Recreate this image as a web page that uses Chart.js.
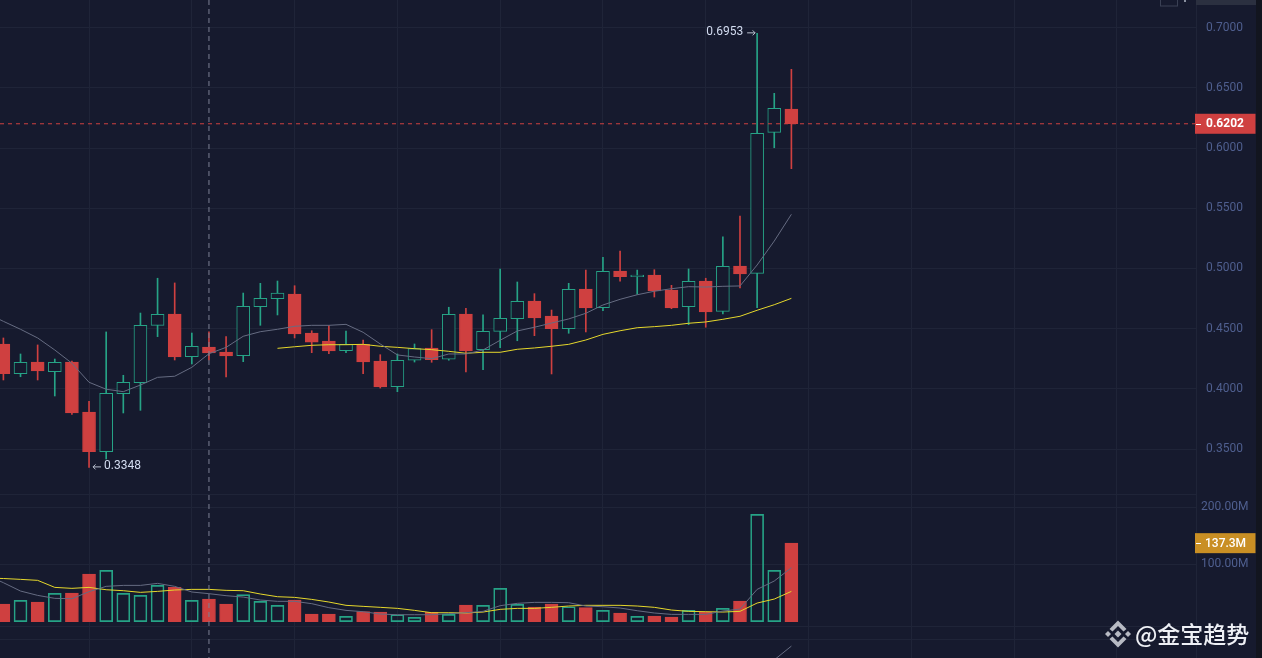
<!DOCTYPE html>
<html>
<head>
<meta charset="utf-8">
<title>K-line</title>
<script src="https://cdn.jsdelivr.net/npm/chart.js@4/dist/chart.umd.js"></script>
<style>
  html, body { margin: 0; padding: 0; background: #161a2e; overflow: hidden; }
  canvas { display: block; }
</style>
</head>
<body>
<canvas id="myChart" width="1262" height="658"></canvas>
<script>
// candles, left to right
const opens = [0.4373,0.4126,0.4223,0.4143,0.4223,0.3808,0.3478,0.3960,0.4051,0.4528,0.4622,0.4267,0.4348,0.4306,0.4276,0.4683,0.4749,0.4788,0.4464,0.4398,0.4317,0.4370,0.4232,0.4018,0.4238,0.4340,0.4246,0.4622,0.4326,0.4478,0.4583,0.4730,0.4605,0.4500,0.4830,0.4674,0.4979,0.4932,0.4946,0.4821,0.4683,0.4896,0.4644,0.5021,0.4960,0.6131,0.6325];
const closes = [0.4126,0.4221,0.4149,0.4221,0.3800,0.3478,0.3963,0.4055,0.4528,0.4620,0.4265,0.4354,0.4298,0.4273,0.4686,0.4752,0.4796,0.4456,0.4389,0.4315,0.4370,0.4223,0.4016,0.4238,0.4334,0.4242,0.4620,0.4315,0.4478,0.4586,0.4728,0.4589,0.4500,0.4827,0.4672,0.4977,0.4932,0.4946,0.4813,0.4672,0.4894,0.4639,0.5018,0.4954,0.6123,0.6330,0.6202];
const highs = [0.4423,0.4290,0.4365,0.4248,0.4232,0.3897,0.4473,0.4113,0.4630,0.4919,0.4880,0.4464,0.4473,0.4434,0.4796,0.4877,0.4896,0.4857,0.4483,0.4525,0.4481,0.4406,0.4284,0.4290,0.4373,0.4492,0.4678,0.4669,0.4616,0.4996,0.4888,0.4791,0.4655,0.4877,0.4987,0.5093,0.5145,0.4987,0.4990,0.4860,0.4996,0.4919,0.5262,0.5436,0.6953,0.6455,0.6654];
const lows = [0.4074,0.4101,0.4074,0.3941,0.3789,0.3348,0.3418,0.3800,0.3822,0.4434,0.4240,0.4207,0.4240,0.4099,0.4226,0.4528,0.4614,0.4423,0.4301,0.4292,0.4301,0.4126,0.4007,0.3977,0.4223,0.4221,0.4238,0.4140,0.4159,0.4342,0.4400,0.4442,0.4124,0.4462,0.4473,0.4649,0.4894,0.4786,0.4763,0.4666,0.4533,0.4512,0.4622,0.4838,0.4674,0.6003,0.5829];

// moving averages on price; the first one starts one candle left of the view
const priceMaShort = [0.4630,0.4561,0.4495,0.4423,0.4323,0.4213,0.4055,0.3997,0.3977,0.4032,0.4096,0.4105,0.4179,0.4292,0.4345,0.4437,0.4475,0.4495,0.4520,0.4528,0.4528,0.4536,0.4470,0.4373,0.4282,0.4265,0.4251,0.4290,0.4290,0.4323,0.4404,0.4481,0.4512,0.4547,0.4581,0.4628,0.4697,0.4744,0.4782,0.4811,0.4832,0.4849,0.4846,0.4852,0.4855,0.5029,0.5228,0.5450];
const priceMaLong = [0.4337,0.4350,0.4362,0.4367,0.4367,0.4370,0.4354,0.4345,0.4334,0.4326,0.4312,0.4296,0.4304,0.4304,0.4329,0.4340,0.4354,0.4370,0.4406,0.4453,0.4483,0.4508,0.4517,0.4528,0.4545,0.4556,0.4578,0.4603,0.4653,0.4699,0.4752];

// volume in millions
const volumes = [30.9,37.3,34.4,49.5,50.1,83.3,89.8,49.5,46,63.5,60,37.3,39.6,30.9,47.2,35.6,28.6,37.9,13.4,13.4,9.3,17.5,16.9,12.2,7.6,16.3,12.8,29.1,28.6,58.3,30.3,25.6,30.9,26.2,24.5,19.8,15.2,9.3,9.9,8.2,19.8,16.9,23.3,36.1,187.7,89.8,137.3];
const volMaShort = [81.6,68.2,53.6,46,40.8,40.2,52.5,61.8,63.5,63.5,67,61.8,51.9,49,45.5,43.1,37.9,35.6,35.6,31.5,24.5,19.8,17.5,13.4,12.2,12.2,12.2,14,15.7,18.1,28,32.1,33.8,33.8,33.2,27.4,26.2,23.9,19.2,15.2,12.8,12.8,12.8,18.6,22.1,56.5,71.1,94.4];
const volMaLong = [76.3,75.5,74,72.3,60,58.3,60,55.9,54.2,51.3,53,55.4,56.5,56.5,54.8,54.2,48.4,43.7,42.5,39,34.4,28.6,26.8,25.1,23.3,19.8,15.7,15.7,15.2,16.9,21.6,23.3,23.3,25.1,27.4,28.6,28.6,28.6,27.4,25.1,20.4,18.1,17.5,16.9,18.1,32.6,39.6,53];

// third pane, only the tail of its line is on screen
const oscValues = [-6, 38];

const priceTicks = [0.7, 0.65, 0.6, 0.55, 0.5, 0.45, 0.4, 0.35];
const volumeTicks = [200, 100];
const hoverIndex = 12;

const BG = '#161a2e';
const GRID = '#1f2438';
const GREEN = '#26a386';
const RED = '#cf4040';
const GOLD = '#c98f24';
const TICK = '#4f5f8f';
const LABEL = '#d3dcf0';
const GRAY_LINE = '#666c82';
const YELLOW = '#e6d82c';

const isUp = (i) => closes[i] >= opens[i];
const candleColor = (c) => isUp(c.dataIndex) ? GREEN : RED;
const points = (arr, start) => arr.map((v, k) => ({x: start + k, y: v}));

const xMin = -0.198, xMax = 69.62;
const priceMax = 0.723, priceMin = 0.3127, priceFloor = 0.1765;
const lastPrice = closes[closes.length - 1];
const lastVolume = volumes[volumes.length - 1];

function fixedTicks(values) {
  return (scale) => { scale.ticks = values.map((v) => ({value: v})); };
}

// keep the panes flush, tick labels must not push the chart area in
function paneFit(s) {
  s.width = 60;
  s.paddingTop = 0;
  s.paddingBottom = 0;
}

// labels, tags, watermark
const overlay = {
  id: 'overlay',
  afterDraw(chart) {
    const c = chart.ctx;
    const xs = chart.scales.x, ys = chart.scales.y, yv = chart.scales.yVol;
    c.save();

    // high / low markers
    const hi = Math.max(...highs), lo = Math.min(...lows);
    const hiX = xs.getPixelForValue(highs.indexOf(hi)), loX = xs.getPixelForValue(lows.indexOf(lo));
    c.font = '12px Roboto';
    c.fillStyle = LABEL;
    c.textBaseline = 'middle';
    c.textAlign = 'right';
    c.fillText(hi.toFixed(4), hiX - 14, ys.getPixelForValue(hi) - 1);
    c.textAlign = 'left';
    c.fillText(lo.toFixed(4), loX + 15, ys.getPixelForValue(lo) - 1);
    arrow(c, hiX - 6, ys.getPixelForValue(hi) - 1, 1);
    arrow(c, loX + 8, ys.getPixelForValue(lo) - 1, -1);

    tag(c, ys.getPixelForValue(lastPrice), RED, lastPrice.toFixed(4), 'bold 12px Roboto', 1206);
    tag(c, yv.getPixelForValue(lastVolume), GOLD, lastVolume.toFixed(1) + 'M', '500 12px Roboto', 1205);

    // toolbar remains in the top corner
    c.fillStyle = '#2b3040';
    c.fillRect(1196, 0, 60, 5);
    c.strokeStyle = '#3a4054';
    c.strokeRect(1160.5, -1, 17, 7);
    c.fillStyle = '#8a90a0';
    c.fillRect(1184, 0, 2, 2);

    // right edge strip
    c.fillStyle = '#12151f';
    c.fillRect(1256, 0, 6, 658);

    logo(c, 1118, 634);
    c.font = '500 23px "Noto Sans CJK SC"';
    c.fillStyle = '#eef0f5';
    c.textAlign = 'left';
    c.textBaseline = 'middle';
    c.fillText('@金宝趋势', 1135, 634);
    c.restore();
  }
};

function arrow(c, x, y, dir) {
  c.strokeStyle = '#b9bfce';
  c.lineWidth = 1;
  c.beginPath();
  c.moveTo(x - 4 * dir, y + 0.5);
  c.lineTo(x + 4 * dir, y + 0.5);
  c.moveTo(x + 1.5 * dir, y - 2);
  c.lineTo(x + 4 * dir, y + 0.5);
  c.lineTo(x + 1.5 * dir, y + 3);
  c.stroke();
}

function tag(c, y, color, text, font, textX) {
  c.fillStyle = color;
  c.fillRect(1195, y - 10, 60.5, 20);
  c.fillStyle = '#ffffff';
  c.fillRect(1196, Math.round(y), 5, 1);
  c.font = font;
  c.textAlign = 'left';
  c.textBaseline = 'middle';
  c.fillText(text, textX, y + 0.5);
}

function logo(c, x, y) {
  const poly = (pts) => {
    c.beginPath();
    pts.forEach((p, i) => i ? c.lineTo(x + p[0], y + p[1]) : c.moveTo(x + p[0], y + p[1]));
    c.closePath();
    c.fill();
  };
  c.fillStyle = '#b7bac3';
  poly([[0, -3.5], [3.5, 0], [0, 3.5], [-3.5, 0]]);
  poly([[-10, -3], [-7, 0], [-10, 3], [-13, 0]]);
  poly([[10, -3], [13, 0], [10, 3], [7, 0]]);
  poly([[0, -13.5], [8.5, -5], [5.5, -2.5], [0, -8], [-5.5, -2.5], [-8.5, -5]]);
  poly([[0, 13.5], [-8.5, 5], [-5.5, 2.5], [0, 8], [5.5, 2.5], [8.5, 5]]);
}

new Chart(document.getElementById('myChart'), {
  type: 'bar',
  plugins: [overlay],
  data: {
    datasets: [
      // hover line runs through all panes
      {
        type: 'line', order: 0, clip: false, yAxisID: 'y',
        data: [{x: hoverIndex, y: priceMax}, {x: hoverIndex, y: priceFloor}],
        borderColor: '#7b8194', borderWidth: 1, borderDash: [5, 4], pointRadius: 0
      },
      {
        type: 'line', order: 1, yAxisID: 'y',
        data: [{x: xMin, y: lastPrice}, {x: xMax, y: lastPrice}],
        borderColor: RED, borderWidth: 1, borderDash: [4, 4], pointRadius: 0
      },
      {type: 'line', order: 1, yAxisID: 'y', data: points(priceMaShort, -1), borderColor: GRAY_LINE, borderWidth: 1, pointRadius: 0},
      {type: 'line', order: 1, yAxisID: 'y', data: points(priceMaLong, 16), borderColor: YELLOW, borderWidth: 1, pointRadius: 0},
      {type: 'line', order: 1, yAxisID: 'yVol', data: points(volMaShort, -1), borderColor: GRAY_LINE, borderWidth: 1, pointRadius: 0},
      {type: 'line', order: 1, yAxisID: 'yVol', data: points(volMaLong, -1), borderColor: YELLOW, borderWidth: 1, pointRadius: 0},
      {type: 'line', order: 1, yAxisID: 'yOsc', data: points(oscValues, 45), borderColor: GRAY_LINE, borderWidth: 1, pointRadius: 0},
      // candle bodies cover the wicks
      {
        order: 2, yAxisID: 'y', grouped: false, barThickness: 13,
        data: opens.map((o, i) => ({x: i, y: [o, closes[i]]})),
        backgroundColor: (c) => isUp(c.dataIndex) ? BG : RED,
        borderColor: candleColor, borderWidth: 1, borderSkipped: false
      },
      {
        order: 3, yAxisID: 'y', grouped: false, barThickness: 1,
        data: lows.map((l, i) => ({x: i, y: [l, highs[i]]})),
        backgroundColor: candleColor, borderWidth: 0
      },
      {
        order: 2, yAxisID: 'yVol', grouped: false, barThickness: 13,
        data: volumes.map((v, i) => ({x: i, y: v})),
        backgroundColor: (c) => isUp(c.dataIndex) ? 'rgba(0,0,0,0)' : RED,
        borderColor: candleColor, borderWidth: 1, borderSkipped: false
      }
    ]
  },
  options: {
    responsive: false,
    animation: false,
    events: [],
    layout: {padding: {left: 0, top: 0, bottom: 0, right: 6}},
    plugins: {legend: {display: false}, tooltip: {enabled: false}},
    scales: {
      x: {
        type: 'linear', offset: false, min: xMin, max: xMax,
        afterBuildTicks: fixedTicks([5, 11, 17, 23, 29, 35, 41, 47, 53, 59, 65]),
        grid: {color: GRID, drawTicks: false, offset: false},
        border: {display: false},
        ticks: {display: false}
      },
      y: {
        position: 'right', stack: 'panes', stackWeight: 494,
        min: priceMin, max: priceMax,
        afterBuildTicks: fixedTicks(priceTicks.concat(priceMin)),
        afterFit: paneFit,
        grid: {color: GRID, drawTicks: false},
        border: {color: GRID},
        ticks: {
          autoSkip: false, padding: 10, color: TICK, font: {family: 'Roboto', size: 12},
          callback: (v) => priceTicks.includes(v) ? v.toFixed(4) : ''
        }
      },
      yVol: {
        position: 'right', stack: 'panes', stackWeight: 132.7,
        min: -8.74, max: 223.25,
        afterBuildTicks: fixedTicks(volumeTicks.concat(-8.74)),
        afterFit: paneFit,
        grid: {color: GRID, drawTicks: false},
        border: {color: GRID},
        ticks: {
          autoSkip: false, padding: 5, color: TICK, font: {family: 'Roboto', size: 12},
          callback: (v) => volumeTicks.includes(v) ? v.toFixed(2) + 'M' : ''
        }
      },
      yOsc: {
        position: 'right', stack: 'panes', stackWeight: 31.3,
        min: 0, max: 100,
        afterBuildTicks: fixedTicks([60]),
        afterFit: paneFit,
        grid: {color: GRID, drawTicks: false},
        border: {color: GRID},
        ticks: {display: false}
      }
    }
  }
});
</script>
</body>
</html>
